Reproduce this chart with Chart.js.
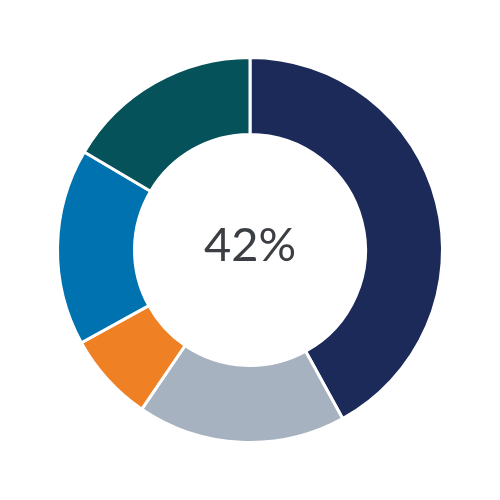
<!DOCTYPE html>
<html lang="en">
<head>
    <meta charset="UTF-8">
    <title>Doughnut</title>
    <script src="https://cdn.jsdelivr.net/npm/chart.js"></script>
    <style>
        html, body { margin: 0; padding: 0; background: #fff; }
        #wrap { width: 500px; height: 500px; }
    </style>
</head>
<body>
<div id="wrap"><canvas id="donut"></canvas></div>
<script>
    // segments clockwise from 12 o'clock
    const labels = ['Navy', 'Gray', 'Orange', 'Blue', 'Teal'];
    const values = [42, 17.5, 7.5, 16.5, 16.5];
    const colors = ['#1c2a5a', '#a7b2c0', '#f08024', '#0072b0', '#06525a'];
    const centerText = '42%';

    const centerLabel = {
        id: 'centerLabel',
        afterDraw(chart) {
            const arc = chart.getDatasetMeta(0).data[0];
            const ctx = chart.ctx;
            ctx.save();
            ctx.font = '400 47px Lato, "Open Sans", sans-serif';
            ctx.fillStyle = '#3b3f44';
            ctx.textAlign = 'center';
            ctx.textBaseline = 'middle';
            ctx.fillText(centerText, arc.x, arc.y - 4);
            ctx.restore();
        }
    };

    new Chart(document.getElementById('donut'), {
        type: 'doughnut',
        data: {
            labels: labels,
            datasets: [{
                data: values,
                backgroundColor: colors,
                borderColor: '#ffffff',
                borderWidth: 3,
                hoverOffset: 0
            }]
        },
        options: {
            responsive: true,
            maintainAspectRatio: false,
            animation: false,
            cutout: '60%',
            layout: { padding: 56 },
            plugins: {
                legend: { display: false },
                tooltip: { enabled: false }
            }
        },
        plugins: [centerLabel]
    });
</script>
</body>
</html>
